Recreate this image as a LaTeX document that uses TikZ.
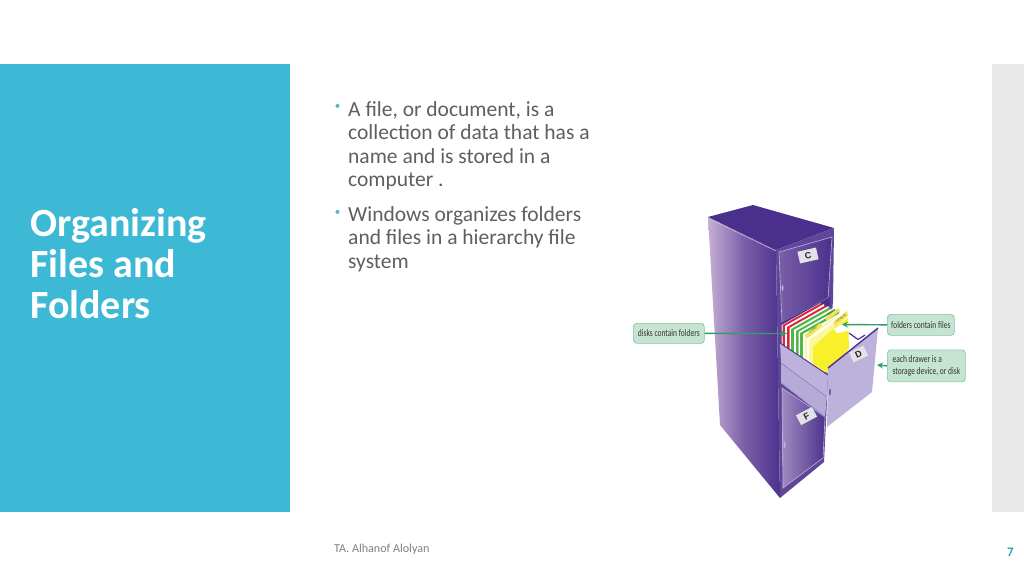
\documentclass[tikz,border=0pt]{standalone}
\usepackage{fontspec}
\setmainfont{Carlito}
\newfontfamily\callfont[FakeStretch=0.75]{Carlito}
\newfontfamily\tagfont{Liberation Sans}
\usetikzlibrary{arrows.meta}
\definecolor{panelblue}{HTML}{3DB8D5}
\definecolor{stripgray}{HTML}{E9E9E9}
\definecolor{bodytext}{HTML}{5F5F5F}
\definecolor{bullet}{HTML}{4DB8C8}
\definecolor{pageno}{HTML}{2FA5B5}
\definecolor{pdark}{HTML}{4A2F8C}
\definecolor{pframe}{HTML}{5F4698}
\definecolor{pmid}{HTML}{7B5FA8}
\definecolor{plight}{HTML}{C9B4D6}
\definecolor{plilac}{HTML}{BDB2DC}
\definecolor{plilacd}{HTML}{8F80BC}
\definecolor{callfill}{HTML}{C6E4D2}
\definecolor{calldraw}{HTML}{86C4A2}
\definecolor{arrowgreen}{HTML}{2F9E6E}
\definecolor{foldery}{HTML}{F8F02A}
\definecolor{foldert}{HTML}{EFE35A}
\definecolor{folderp}{HTML}{FBF7A0}
\definecolor{folderr}{HTML}{D9263F}
\definecolor{folderg}{HTML}{4FB848}
\definecolor{labelg}{HTML}{E2E2E8}
\tikzset{
  x=1pt,y=-1pt,
  body/.style={anchor=north west,inner sep=0pt,align=left,text=bodytext,font=\fontsize{21.5}{23.5}\selectfont},
  dot/.style={anchor=center,inner sep=0pt,text=bullet,font=\fontsize{11}{11}\selectfont},
  title/.style={anchor=north west,inner sep=0pt,align=left,text=white,font=\fontsize{40}{41}\selectfont\bfseries},
  callout/.style={draw=calldraw,fill=callfill,rounded corners=3.5pt,line width=.7pt,inner sep=0pt,align=left,text=black!80,font=\callfont\fontsize{10}{12.5}\selectfont},
  pointer/.style={draw=arrowgreen,line width=1.4pt,-{Stealth[length=6pt,width=6pt]}},
  tag/.style={fill=labelg,inner sep=0pt,font=\tagfont\fontsize{9}{9}\selectfont\bfseries,text=black!85},
  tabtext/.style={inner sep=0pt,rotate=37,text=black!70,font=\fontsize{3}{3}\selectfont},
  foot/.style={inner sep=0pt,text=gray,font=\fontsize{12.1}{12.1}\selectfont}
}
\newcommand{\fold}[3]{\fill[#1] (#2,#3) -- ++(39,-22) -- ++(2,45) -- ++(-30,20) -- ++(-11,-10) -- cycle;}
\begin{document}
\begin{tikzpicture}
\useasboundingbox (0,0) rectangle (1024,576);
\fill[white] (0,0) rectangle (1024,576);
\fill[panelblue] (0,64) rectangle (289.5,512);
\fill[stripgray] (992,64) rectangle (1024,512);
\node[title] (ttl) at (30,208.5) {Organizing\\Files and\\Folders};
\node[dot] (b1) at (337.5,107) {•};
\node[body] (t1) at (348,101) {A file, or document, is a\\collection of data that has a\\name and is stored in a\\computer .};
\node[dot] (b2) at (337.5,213) {•};
\node[body] (t2) at (348,206) {Windows organizes folders\\and files in a hierarchy file\\system};
\node[foot,anchor=west] (ft) at (334,549.5) {TA. Alhanof Alolyan};
\node[anchor=center,inner sep=0pt,text=pageno,font=\fontsize{13}{13}\selectfont\bfseries] (pg) at (1010.5,552) {7};

% cabinet left side
\begin{scope}
\clip (708,217) -- (776,250) -- (780,498) -- (720,425) -- cycle;
\shade[left color=plight,right color=pdark,middle color=pmid] (706,200) rectangle (782,500);
\end{scope}
\draw[plight!70!white,line width=.5pt] (709,218.5) -- (776,251);
% top
\fill[pdark] (708,217) -- (753,205) -- (834,228) -- (776,250) -- cycle;
% front frame
\fill[pframe] (776,250) -- (834,228) -- (833,300) -- (828,380) -- (824,462) -- (780,498) -- cycle;
% door C
\begin{scope}
\clip (779,252) -- (832,237) -- (828,298) -- (782,323) -- cycle;
\shade[left color=pmid,right color=pdark] (778,235) rectangle (834,325);
\end{scope}
\draw[plilac,line width=.6pt] (779,252) -- (832,237) -- (828,298) -- (782,323) -- cycle;
\fill[plilac] (782.5,288) ellipse (1 and 3);
\node[tag,rotate=13,minimum width=19pt,minimum height=12pt] (c) at (808,255.5) {C};
% door F
\begin{scope}
\clip (782,388) -- (825,417) -- (823,458) -- (783,488) -- cycle;
\shade[left color=pmid!70!white,right color=pdark] (780,385) rectangle (827,490);
\end{scope}
\draw[plilac,line width=.6pt] (782,388) -- (825,417) -- (823,458) -- (783,488) -- cycle;
\fill[plilac] (784.5,445) ellipse (1 and 3.5);
\node[tag,rotate=28,minimum width=18pt,minimum height=11pt] (f) at (806.5,416) {F};
% drawer cavity
\fill[pdark] (781,323) -- (830,297) -- (829,340) -- (781,345) -- cycle;
% folders
\fold{white}{781.5}{325}
\fold{folderr}{782.5}{325}
\fold{white}{785}{326}
\fold{folderr}{787}{327}
\fold{white}{789.5}{328}
\fold{folderg}{791}{329}
\fold{white}{794}{330}
\fold{folderg}{796}{331}
\fold{white}{798.5}{332}
\fold{folderg}{800}{333}
\fold{white}{803}{334}
\fold{folderp}{805}{335}
% tabs and front folders
\fill[foldert] (805,335) -- (820,323) -- (822,326) -- (807,338) -- cycle;
\fill[foldert] (825,318) -- (838,308) -- (840,311) -- (827,321) -- cycle;
\fill[white] (807,339) -- (845,312) -- (849,348) -- (829,374) -- (807,360) -- cycle;
\fill[folderp] (809,340) -- (844,316) -- (849,348) -- (829,374) -- (809,360) -- cycle;
\fill[foldert] (833,322) -- (847,311) -- (848,316) -- (835,326) -- cycle;
\fill[foldery] (813,347) -- (835,327) -- (848,318) -- (849,348) -- (829,374) -- (813,364) -- cycle;
\fill[white] (833,329) to[out=-10,in=200] (840,325) -- (848,323) -- (848,331) to[out=180,in=10] (838,333) to[out=190,in=0] (833,329) -- cycle;
\node[tabtext] (tcr) at (813,329.5) {Creator};
\node[tabtext] (tid) at (831,312.5) {Idealist};
\node[tabtext] (tfi) at (841,318) {Financial};
% drawer side and runner
\fill[plilac] (780,343) -- (828,375) -- (827,397) -- (781,363) -- cycle;
\fill[plilac!85!plilacd] (781,363) -- (827,397) -- (825,417) -- (781,383) -- cycle;
\draw[plilacd,line width=.6pt] (781,363) -- (827,397);
\draw[plilacd,line width=.6pt] (781,383) -- (825,417);
\draw[pdark,line width=.9pt] (780,343) -- (828,375);
% rear of drawer
\draw[pdark,line width=1.2pt] (849,333) -- (858,339.5) -- (865,335);
% drawer front D
\fill[plilac] (828,368) -- (878,328) -- (872,392) -- (827,427) -- cycle;
\draw[pdark,line width=1.4pt] (828,368) -- (878,328);
\fill[pmid] (830,392) ellipse (1 and 3.5);
\node[tag,rotate=25,minimum width=16pt,minimum height=11pt] (d) at (858.5,354) {D};
% callouts
\node[callout,anchor=north west,minimum width=71pt,minimum height=20pt,align=center] (dk) at (633,323) {disks contain folders};
\node[callout,anchor=north west,minimum width=67pt,minimum height=21pt,align=center] (fc) at (887,314) {folders contain files};
\node[callout,anchor=north west,minimum width=78pt,minimum height=32pt] (dr) at (887,349.5) {each drawer is a\\storage device, or disk};
\coordinate (aDk) at (787,333.5);
\coordinate (aFc) at (842,324.5);
\coordinate (aDr) at (877,365);
\draw[pointer] (dk.east) -- (aDk);
\draw[pointer] (fc.west) -- (aFc);
\draw[pointer] (dr.west) -- (aDr);
\end{tikzpicture}
\end{document}
